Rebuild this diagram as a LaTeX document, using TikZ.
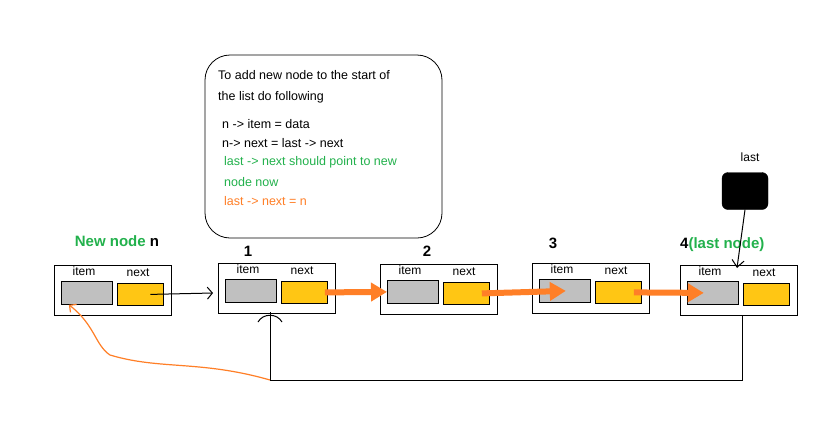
\documentclass[tikz,border=0pt]{standalone}
\usepackage{fontspec}
\setmainfont{Liberation Sans}
\usetikzlibrary{arrows.meta}
\definecolor{gbox}{RGB}{192,192,192}
\definecolor{ybox}{RGB}{255,198,20}
\definecolor{gtxt}{RGB}{34,177,76}
\definecolor{otxt}{RGB}{255,127,39}
\begin{document}
\begin{tikzpicture}[x=1pt,y=-1pt,
  outer/.style={draw=black,fill=white,line width=0.8pt},
  gray/.style={draw=black,fill=gbox,line width=0.8pt},
  yel/.style={draw=black,fill=ybox,line width=0.8pt},
  lbl/.style={font=\fontsize{12}{14}\selectfont,inner sep=0pt},
  num/.style={font=\fontsize{15}{17}\selectfont\bfseries,inner sep=0pt},
  txt/.style={font=\fontsize{12.5}{15}\selectfont,inner sep=0pt,anchor=west},
  oarr/.style={draw=otxt,line width=6pt,-{Triangle[length=16pt,width=18pt]}}]
\useasboundingbox (0,0) rectangle (823,437);
\fill[white] (0,0) rectangle (823,437);
% callout
\draw[line width=0.8pt,rounded corners=25pt] (205,55) rectangle (442,238);
\node[txt] (t1) at (218,75) {To add new node to the start of};
\node[txt] (t2) at (218,97) {the list do following};
\node[txt] (t3) at (222,124) {n -> item = data};
\node[txt] (t4) at (222,143) {n-> next = last -> next};
\node[txt,text=gtxt] (t5) at (224,162) {last -> next should point to new};
\node[txt,text=gtxt] (t6) at (224,182) {node now};
\node[txt,text=otxt] (t7) at (224,201) {last -> next = n};
% nodes
\foreach \nm/\x/\y in {n/54/265, a/218/263, b/380/264, c/532/263, d/680/265}{
  \draw[outer] (\x,\y) rectangle ++(117,50);
  \node[gray,minimum width=51pt,minimum height=23pt,inner sep=0pt,anchor=north west] (\nm g) at (\x+7,\y+16) {};
  \node[yel,minimum width=46pt,minimum height=22pt,inner sep=0pt,anchor=north west] (\nm y) at (\x+63,\y+18) {};
  \node[lbl] (\nm i) at (\x+30,\y+6) {item};
  \node[lbl] (\nm x) at (\x+84,\y+8) {next};
}
\coordinate (abox) at (270,312);
\node[num,text=gtxt] (nn) at (117,241) {New node \textcolor{black}{n}};
\node[num] (l1) at (248,251) {1};
\node[num] (l2) at (427,251) {2};
\node[num] (l3) at (553,243) {3};
\node[num,anchor=west] (l4) at (680,245) {4\textcolor{gtxt}{(last node)}};
% last pointer
\node[lbl] (lastl) at (750,157) {last};
\node[draw=black,fill=black,rounded corners=6pt,minimum width=46pt,minimum height=37pt] (last) at (745,191) {};
\coordinate (dtop) at (737,268);
\draw[line width=1pt,-{Straight Barb[length=7pt,width=12pt]}] (last.south) -- (dtop);
% arrows
\coordinate (nend) at (213,293);
\draw[line width=1pt,-{Straight Barb[length=5pt,width=12pt]}] ([xshift=10pt]ny.center) -- (nend);
\draw[oarr] ([xshift=-3pt]ay.east) -- (bg.west);
\draw[oarr] ([xshift=-8pt]by.east) -- ([xshift=-25pt]cg.east);
\draw[oarr] ([xshift=-8pt]cy.east) -- ([xshift=-35pt]dg.east);
% return line
\coordinate (dbot) at (742,315);
\coordinate (br) at (742,380);
\coordinate (bl) at (270,380);
\draw[line width=1pt] (dbot) -- (br) -- (bl) -- (abox);
\draw[line width=1pt] (258,322) .. controls (263,313) and (277,313) .. (282,322);
\draw[otxt,line width=1.2pt,-{Straight Barb[length=5pt,width=10pt]}] (bl) .. controls (200,360) and (160,370) .. (110,355) .. controls (95,345) and (95,325) .. ([xshift=-18pt]ng.south);
\end{tikzpicture}
\end{document}
